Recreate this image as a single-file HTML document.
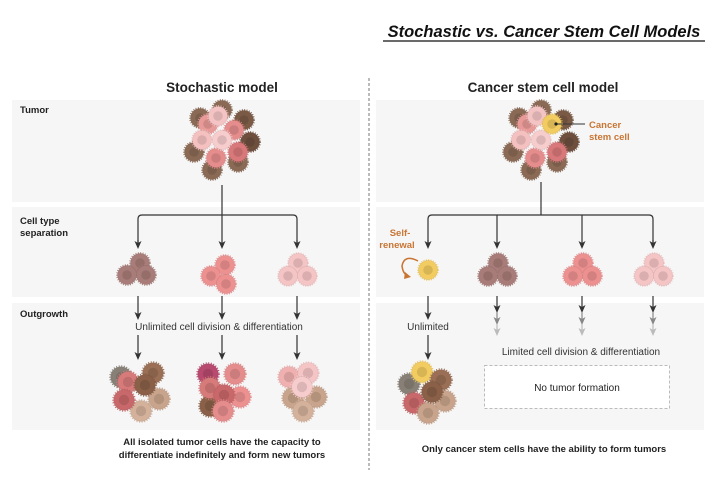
<!DOCTYPE html>
<html><head><meta charset="utf-8"><style>
body{margin:0;background:#fff;}
svg{display:block;font-family:"Liberation Sans",sans-serif;}
</style></head><body>
<svg width="720" height="504" viewBox="0 0 720 504" xmlns="http://www.w3.org/2000/svg">
<defs>
<symbol id="c" viewBox="-12 -12 24 24" overflow="visible">
<circle r="10.2" fill="none" stroke="currentColor" stroke-width="1.4" stroke-dasharray="0.9 1.5"/>
<circle r="9.6" fill="currentColor"/>
<circle r="9.6" fill="none" stroke="#000" stroke-opacity=".08" stroke-width="0.8"/>
<circle r="4.8" fill="#000" fill-opacity=".11"/>
</symbol>
<marker id="a" markerWidth="8" markerHeight="8" refX="4" refY="4" orient="auto" markerUnits="userSpaceOnUse"><path d="M0,0.5 L8,4 L0,7.5 L2,4z" fill="#333"/></marker>
<marker id="ag" markerWidth="8" markerHeight="8" refX="4" refY="4" orient="auto" markerUnits="userSpaceOnUse"><path d="M0,0.5 L8,4 L0,7.5 L2,4z" fill="#888"/></marker>
<marker id="al" markerWidth="8" markerHeight="8" refX="4" refY="4" orient="auto" markerUnits="userSpaceOnUse"><path d="M0,0.5 L8,4 L0,7.5 L2,4z" fill="#bbb"/></marker>
</defs>

<text x="544" y="37" text-anchor="middle" font-size="16.5" font-weight="bold" font-style="italic" fill="#111">Stochastic vs. Cancer Stem Cell Models</text>
<line x1="383" y1="41" x2="705" y2="41" stroke="#111" stroke-width="1.2"/>

<text x="222" y="92" text-anchor="middle" font-size="13.5" font-weight="bold" fill="#222">Stochastic model</text>
<text x="543" y="92" text-anchor="middle" font-size="13.5" font-weight="bold" fill="#222">Cancer stem cell model</text>
<line x1="369" y1="78" x2="369" y2="470" stroke="#777" stroke-width="1" stroke-dasharray="3 2"/>

<rect x="12" y="100" width="348" height="102" fill="#f6f6f6"/>
<rect x="12" y="207" width="348" height="90" fill="#f6f6f6"/>
<rect x="12" y="303" width="348" height="127" fill="#f6f6f6"/>
<rect x="376" y="100" width="328" height="102" fill="#f6f6f6"/>
<rect x="376" y="207" width="328" height="90" fill="#f6f6f6"/>
<rect x="376" y="303" width="328" height="127" fill="#f6f6f6"/>

<g font-size="9.5" font-weight="bold" fill="#222">
<text x="20" y="113">Tumor</text>
<text x="20" y="224">Cell type</text>
<text x="20" y="236">separation</text>
<text x="20" y="317">Outgrowth</text>
</g>

<g>
<use href="#c" x="188" y="106" width="24" height="24" style="color:#8a6a55"/>
<use href="#c" x="210" y="98" width="24" height="24" style="color:#8a6a55"/>
<use href="#c" x="232" y="108" width="24" height="24" style="color:#7a5a45"/>
<use href="#c" x="238" y="130" width="24" height="24" style="color:#6e4f3e"/>
<use href="#c" x="226" y="150" width="24" height="24" style="color:#8a6a55"/>
<use href="#c" x="200" y="158" width="24" height="24" style="color:#8a6a55"/>
<use href="#c" x="182" y="140" width="24" height="24" style="color:#8a6a55"/>
<use href="#c" x="196" y="112" width="24" height="24" style="color:#e89a98"/>
<use href="#c" x="222" y="118" width="24" height="24" style="color:#e58c8c"/>
<use href="#c" x="226" y="140" width="24" height="24" style="color:#d9787a"/>
<use href="#c" x="204" y="146" width="24" height="24" style="color:#e58c8c"/>
<use href="#c" x="190" y="128" width="24" height="24" style="color:#f4c0c0"/>
<use href="#c" x="206" y="104" width="24" height="24" style="color:#f4c4c4"/>
<use href="#c" x="210" y="128" width="24" height="24" style="color:#f7cccc"/>
</g>

<g>
<use href="#c" x="507" y="106" width="24" height="24" style="color:#8a6a55"/>
<use href="#c" x="529" y="98" width="24" height="24" style="color:#8a6a55"/>
<use href="#c" x="551" y="108" width="24" height="24" style="color:#7a5a45"/>
<use href="#c" x="557" y="130" width="24" height="24" style="color:#6e4f3e"/>
<use href="#c" x="545" y="150" width="24" height="24" style="color:#8a6a55"/>
<use href="#c" x="519" y="158" width="24" height="24" style="color:#8a6a55"/>
<use href="#c" x="501" y="140" width="24" height="24" style="color:#8a6a55"/>
<use href="#c" x="515" y="112" width="24" height="24" style="color:#e89a98"/>
<use href="#c" x="545" y="140" width="24" height="24" style="color:#d9787a"/>
<use href="#c" x="523" y="146" width="24" height="24" style="color:#e58c8c"/>
<use href="#c" x="509" y="128" width="24" height="24" style="color:#f4c0c0"/>
<use href="#c" x="525" y="104" width="24" height="24" style="color:#f4c4c4"/>
<use href="#c" x="529" y="128" width="24" height="24" style="color:#f7cccc"/>
<use href="#c" x="540" y="112" width="24" height="24" style="color:#f2cc60"/>
</g>
<line x1="556" y1="124" x2="585" y2="124" stroke="#333" stroke-width="1"/>
<circle cx="556" cy="124" r="1.6" fill="#222"/>
<text x="589" y="128" font-size="9.5" font-weight="bold" fill="#c87533">Cancer</text>
<text x="589" y="140" font-size="9.5" font-weight="bold" fill="#c87533">stem cell</text>

<g fill="none" stroke="#333" stroke-width="1.2">
<line x1="222" y1="185" x2="222" y2="245" marker-end="url(#a)"/>
<path d="M138,245 V219 Q138,215 142,215 H293 Q297,215 297,219 V245" />
<line x1="138" y1="240" x2="138" y2="245" marker-end="url(#a)"/>
<line x1="297" y1="240" x2="297" y2="245" marker-end="url(#a)"/>
<line x1="138" y1="296" x2="138" y2="316" marker-end="url(#a)"/>
<line x1="222" y1="296" x2="222" y2="316" marker-end="url(#a)"/>
<line x1="297" y1="296" x2="297" y2="316" marker-end="url(#a)"/>
<line x1="138" y1="335" x2="138" y2="356" marker-end="url(#a)"/>
<line x1="222" y1="335" x2="222" y2="356" marker-end="url(#a)"/>
<line x1="297" y1="335" x2="297" y2="356" marker-end="url(#a)"/>
</g>
<text x="219" y="330" text-anchor="middle" font-size="10" fill="#333">Unlimited cell division &amp; differentiation</text>

<g fill="none" stroke="#333" stroke-width="1.2">
<line x1="541" y1="182" x2="541" y2="215"/>
<path d="M428,245 V219 Q428,215 432,215 H649 Q653,215 653,219 V245"/>
<line x1="428" y1="240" x2="428" y2="245" marker-end="url(#a)"/>
<line x1="497" y1="215" x2="497" y2="245" marker-end="url(#a)"/>
<line x1="582" y1="215" x2="582" y2="245" marker-end="url(#a)"/>
<line x1="653" y1="240" x2="653" y2="245" marker-end="url(#a)"/>
<line x1="428" y1="296" x2="428" y2="316" marker-end="url(#a)"/>
<line x1="428" y1="335" x2="428" y2="356" marker-end="url(#a)"/>
<line x1="497" y1="296" x2="497" y2="309" marker-end="url(#a)"/>
<line x1="582" y1="296" x2="582" y2="309" marker-end="url(#a)"/>
<line x1="653" y1="296" x2="653" y2="309" marker-end="url(#a)"/>
</g>
<g fill="none" stroke="#888" stroke-width="1.2">
<line x1="497" y1="312" x2="497" y2="321" marker-end="url(#ag)"/>
<line x1="582" y1="312" x2="582" y2="321" marker-end="url(#ag)"/>
<line x1="653" y1="312" x2="653" y2="321" marker-end="url(#ag)"/>
</g>
<g fill="none" stroke="#bbb" stroke-width="1.2">
<line x1="497" y1="324" x2="497" y2="332" marker-end="url(#al)"/>
<line x1="582" y1="324" x2="582" y2="332" marker-end="url(#al)"/>
<line x1="653" y1="324" x2="653" y2="332" marker-end="url(#al)"/>
</g>
<text x="428" y="330" text-anchor="middle" font-size="10" fill="#333">Unlimited</text>
<text x="581" y="355" text-anchor="middle" font-size="10" fill="#333">Limited cell division &amp; differentiation</text>
<rect x="484.5" y="365.5" width="185" height="43" fill="#fff" stroke="#bbb" stroke-dasharray="3 2"/>
<text x="577" y="391" text-anchor="middle" font-size="10" fill="#222">No tumor formation</text>

<text x="400" y="236" text-anchor="middle" font-size="9.5" font-weight="bold" fill="#c87533">Self-</text>
<text x="397" y="248" text-anchor="middle" font-size="9.5" font-weight="bold" fill="#c87533">renewal</text>
<path d="M418,261 Q404,254 402,266 Q403,274 408,276" fill="none" stroke="#c87533" stroke-width="1.5"/>
<path d="M405,272 L411,277 L404,279z" fill="#c87533"/>

<use href="#c" x="128" y="251" width="24" height="24" style="color:#a87c78"/>
<use href="#c" x="115" y="263" width="24" height="24" style="color:#a87c78"/>
<use href="#c" x="134" y="263" width="24" height="24" style="color:#a87c78"/>
<use href="#c" x="213" y="253" width="24" height="24" style="color:#ec9090"/>
<use href="#c" x="199" y="264" width="24" height="24" style="color:#ec9090"/>
<use href="#c" x="214" y="272" width="24" height="24" style="color:#ec9090"/>
<use href="#c" x="286" y="251" width="24" height="24" style="color:#f5c4c4"/>
<use href="#c" x="276" y="264" width="24" height="24" style="color:#f5c4c4"/>
<use href="#c" x="295" y="264" width="24" height="24" style="color:#f5c4c4"/>

<use href="#c" x="416" y="258" width="24" height="24" style="color:#f2cc60"/>
<use href="#c" x="486" y="251" width="24" height="24" style="color:#a87c78"/>
<use href="#c" x="476" y="264" width="24" height="24" style="color:#a87c78"/>
<use href="#c" x="495" y="264" width="24" height="24" style="color:#a87c78"/>
<use href="#c" x="571" y="251" width="24" height="24" style="color:#ec9090"/>
<use href="#c" x="561" y="264" width="24" height="24" style="color:#ec9090"/>
<use href="#c" x="580" y="264" width="24" height="24" style="color:#ec9090"/>
<use href="#c" x="642" y="251" width="24" height="24" style="color:#f5c4c4"/>
<use href="#c" x="632" y="264" width="24" height="24" style="color:#f5c4c4"/>
<use href="#c" x="651" y="264" width="24" height="24" style="color:#f5c4c4"/>

<use href="#c" x="108" y="364" width="26" height="26" style="color:#888077"/>
<use href="#c" x="140" y="360" width="26" height="26" style="color:#9a6f55"/>
<use href="#c" x="146" y="386" width="26" height="26" style="color:#c9a48c"/>
<use href="#c" x="128" y="398" width="26" height="26" style="color:#d4b19a"/>
<use href="#c" x="115" y="369" width="26" height="26" style="color:#d77a7a"/>
<use href="#c" x="111" y="387" width="26" height="26" style="color:#c8686a"/>
<use href="#c" x="132" y="372" width="26" height="26" style="color:#8a6048"/>

<use href="#c" x="195" y="361" width="26" height="26" style="color:#b84a70"/>
<use href="#c" x="222" y="361" width="26" height="26" style="color:#e58c8c"/>
<use href="#c" x="197" y="393" width="26" height="26" style="color:#8a6048"/>
<use href="#c" x="227" y="384" width="26" height="26" style="color:#ec9090"/>
<use href="#c" x="197" y="375" width="26" height="26" style="color:#d77a7a"/>
<use href="#c" x="211" y="382" width="26" height="26" style="color:#c8686a"/>
<use href="#c" x="210" y="398" width="26" height="26" style="color:#e58c8c"/>

<use href="#c" x="276" y="364" width="26" height="26" style="color:#f0b0b0"/>
<use href="#c" x="295" y="360" width="26" height="26" style="color:#f5c4c4"/>
<use href="#c" x="280" y="385" width="26" height="26" style="color:#c9a48c"/>
<use href="#c" x="303" y="384" width="26" height="26" style="color:#c9a48c"/>
<use href="#c" x="290" y="398" width="26" height="26" style="color:#d4b19a"/>
<use href="#c" x="289" y="374" width="26" height="26" style="color:#f7cccc"/>

<use href="#c" x="396" y="371" width="26" height="26" style="color:#888077"/>
<use href="#c" x="409" y="359" width="26" height="26" style="color:#f2cc60"/>
<use href="#c" x="428" y="367" width="26" height="26" style="color:#9a6f55"/>
<use href="#c" x="432" y="388" width="26" height="26" style="color:#c9a48c"/>
<use href="#c" x="401" y="390" width="26" height="26" style="color:#c8686a"/>
<use href="#c" x="415" y="400" width="26" height="26" style="color:#c9a48c"/>
<use href="#c" x="419" y="379" width="26" height="26" style="color:#8a6048"/>

<g font-size="9.5" font-weight="bold" fill="#222" text-anchor="middle">
<text x="222" y="445">All isolated tumor cells have the capacity to</text>
<text x="222" y="458">differentiate indefinitely and form new tumors</text>
<text x="544" y="452">Only cancer stem cells have the ability to form tumors</text>
</g>
</svg>
</body></html>
